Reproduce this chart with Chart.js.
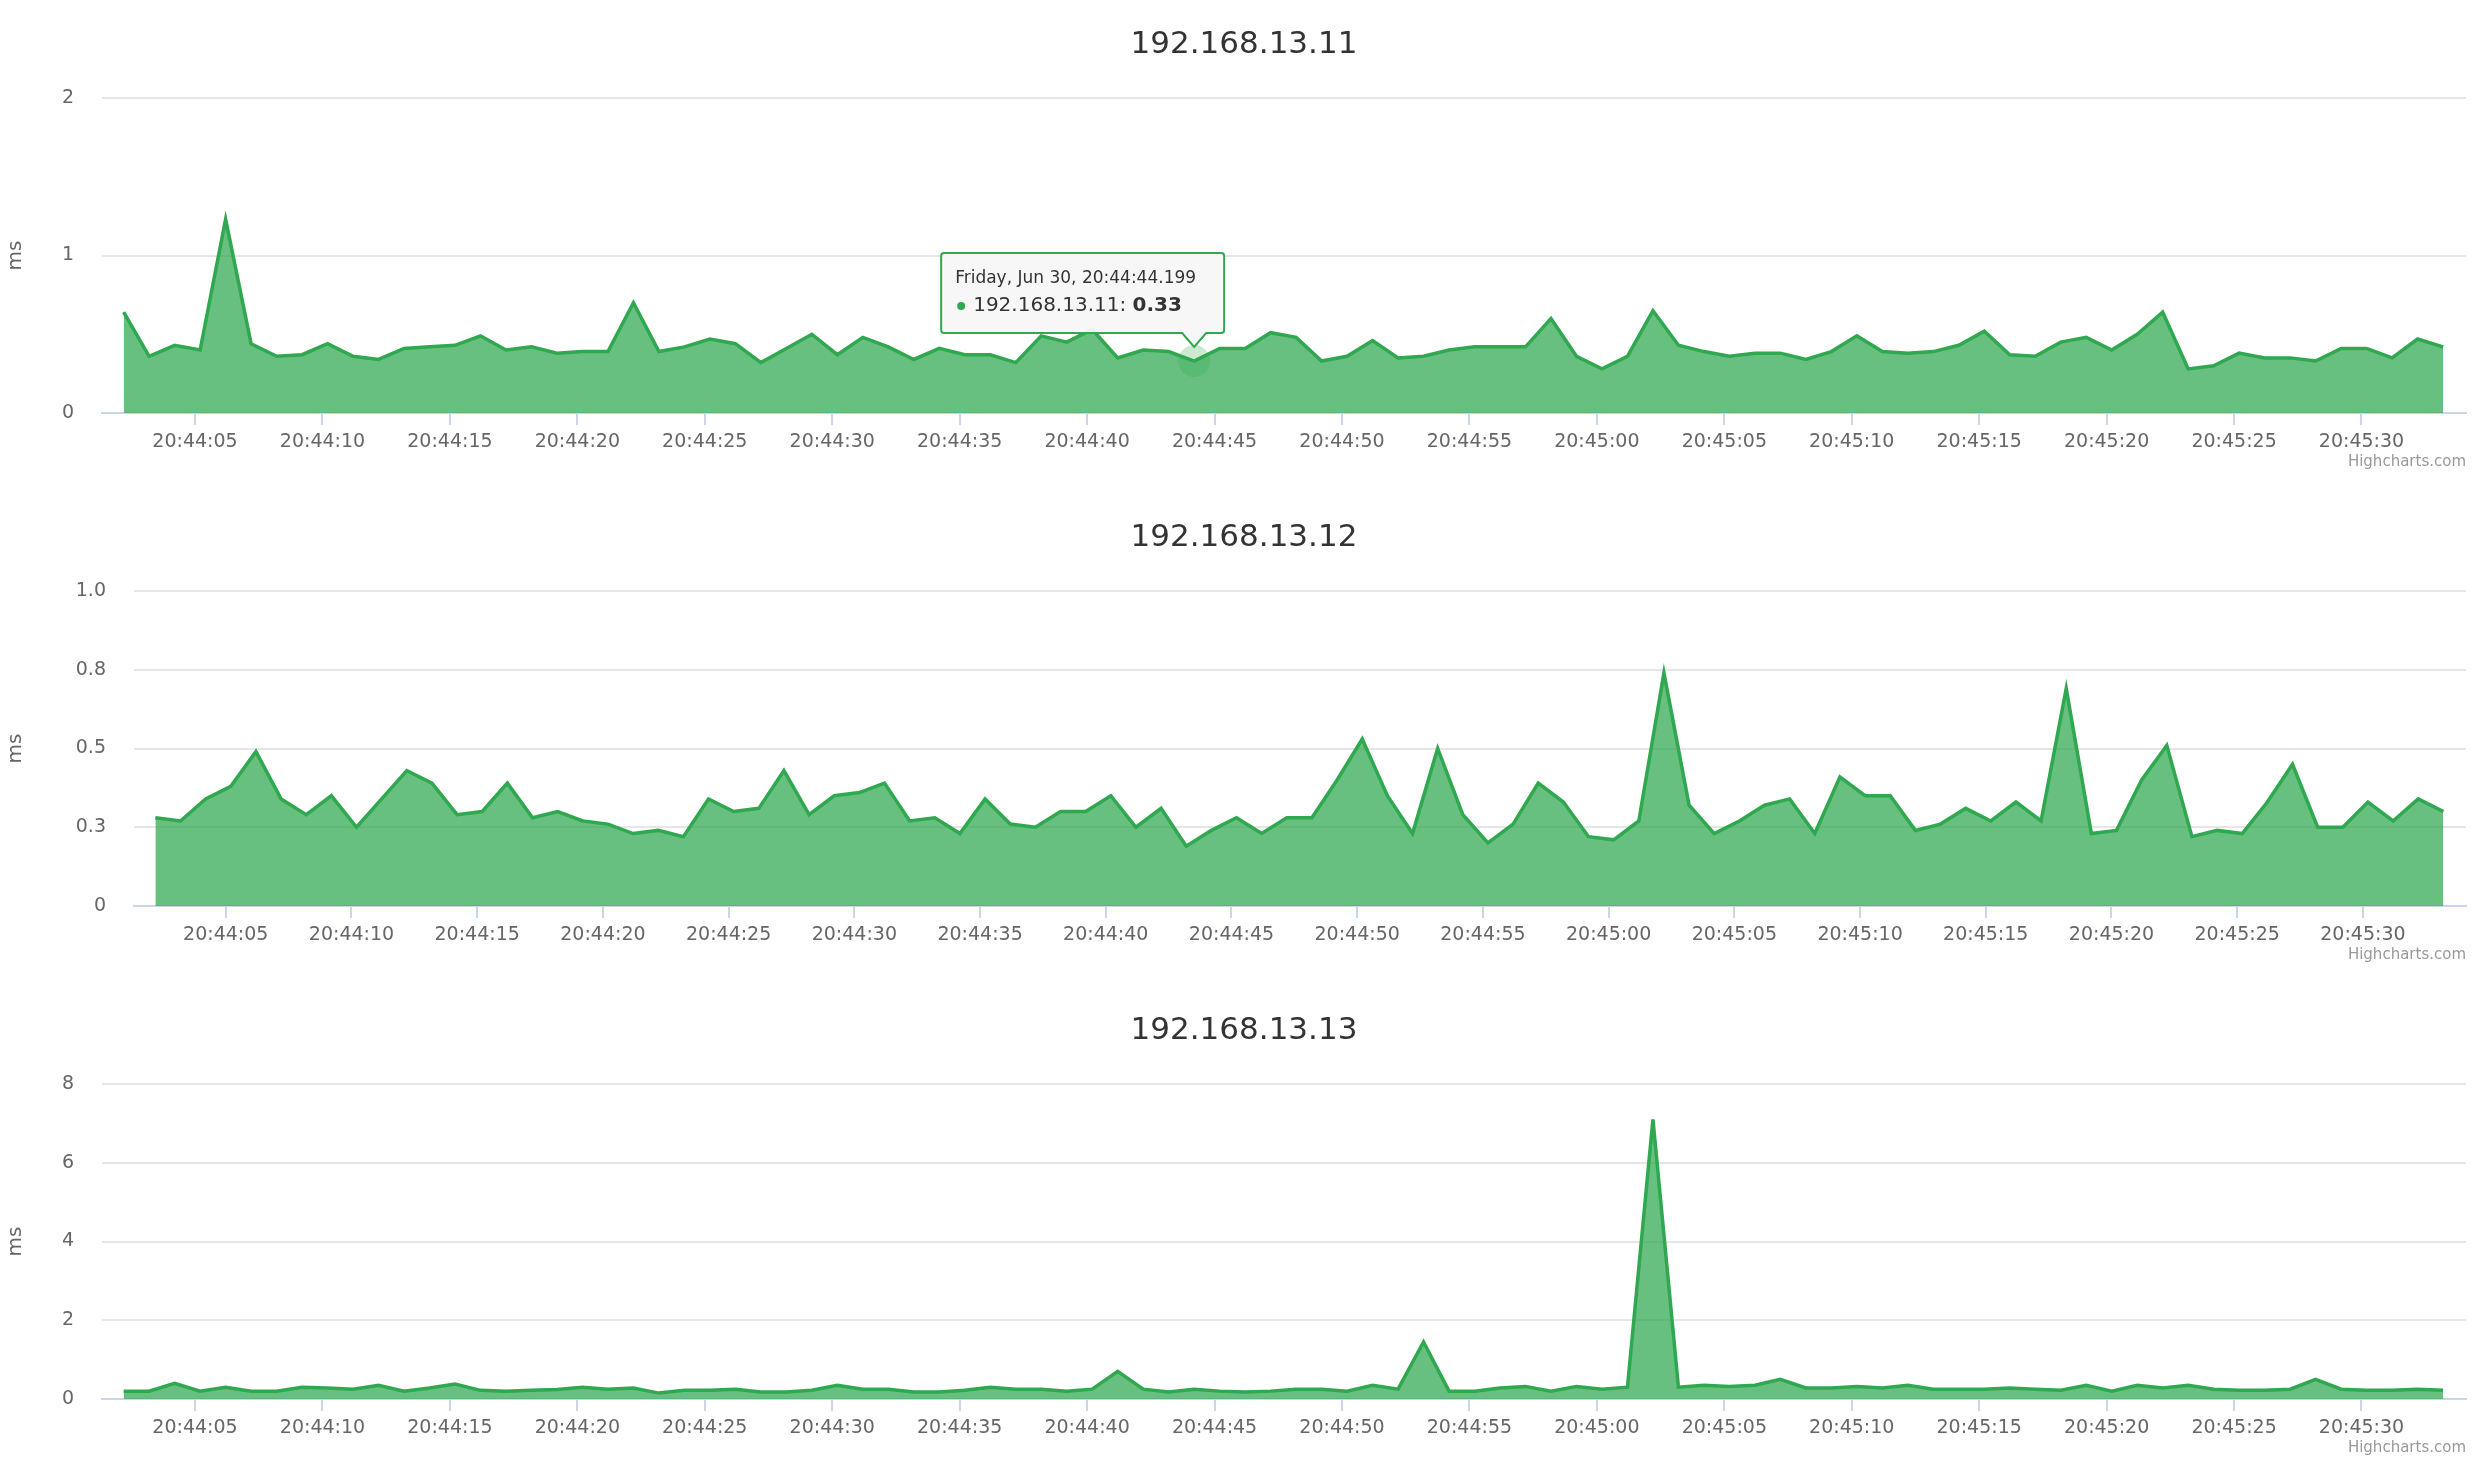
<!DOCTYPE html>
<html><head><meta charset="utf-8">
<script src="https://cdn.jsdelivr.net/npm/chart.js@4"></script>
<style>
body{margin:0;background:#fff;width:2488px;height:1484px;overflow:hidden;font-family:"DejaVu Sans",sans-serif}
.blk{position:absolute;left:0;width:2488px;height:493px}
.ttl{position:absolute;left:0;width:2488px;text-align:center;top:24px;font-size:31px;color:#333}
.cr{position:absolute;right:22px;top:452px;font-size:15px;color:#999}
canvas{position:absolute;left:0;top:0}
</style></head><body>
<div class="blk" style="top:0"><canvas id="c1" width="2488" height="493"></canvas><div class="ttl">192.168.13.11</div><div class="cr">Highcharts.com</div></div>
<div class="blk" style="top:493px"><canvas id="c2" width="2488" height="493"></canvas><div class="ttl">192.168.13.12</div><div class="cr">Highcharts.com</div></div>
<div class="blk" style="top:986px"><canvas id="c3" width="2488" height="493"></canvas><div class="ttl">192.168.13.13</div><div class="cr">Highcharts.com</div></div>
<script>
/* DATA: seconds after 20:44:00, one sample per second */
const t0=2.2;
const host11=[0.64,0.36,0.43,0.40,1.23,0.44,0.36,0.37,0.44,0.36,0.34,0.41,0.42,0.43,0.49,0.40,0.42,0.38,0.39,0.39,0.70,0.39,0.42,0.47,0.44,0.32,0.41,0.50,0.37,0.48,0.42,0.34,0.41,0.37,0.37,0.32,0.49,0.45,0.53,0.35,0.40,0.39,0.33,0.41,0.41,0.51,0.48,0.33,0.36,0.46,0.35,0.36,0.40,0.42,0.42,0.42,0.60,0.36,0.28,0.36,0.65,0.43,0.39,0.36,0.38,0.38,0.34,0.39,0.49,0.39,0.38,0.39,0.43,0.52,0.37,0.36,0.45,0.48,0.40,0.50,0.64,0.28,0.30,0.38,0.35,0.35,0.33,0.41,0.41,0.35,0.47,0.42];
const host12=[0.28,0.27,0.34,0.38,0.49,0.34,0.29,0.35,0.25,0.34,0.43,0.39,0.29,0.30,0.39,0.28,0.30,0.27,0.26,0.23,0.24,0.22,0.34,0.30,0.31,0.43,0.29,0.35,0.36,0.39,0.27,0.28,0.23,0.34,0.26,0.25,0.30,0.30,0.35,0.25,0.31,0.19,0.24,0.28,0.23,0.28,0.28,0.40,0.53,0.35,0.23,0.50,0.29,0.20,0.26,0.39,0.33,0.22,0.21,0.27,0.74,0.32,0.23,0.27,0.32,0.34,0.23,0.41,0.35,0.35,0.24,0.26,0.31,0.27,0.33,0.27,0.69,0.23,0.24,0.40,0.51,0.22,0.24,0.23,0.33,0.45,0.25,0.25,0.33,0.27,0.34,0.30];
const host13=[0.2,0.2,0.4,0.2,0.3,0.2,0.2,0.3,0.28,0.25,0.35,0.2,0.28,0.38,0.22,0.2,0.22,0.24,0.3,0.25,0.28,0.15,0.22,0.22,0.25,0.18,0.18,0.22,0.35,0.25,0.25,0.18,0.18,0.22,0.3,0.25,0.25,0.2,0.25,0.7,0.25,0.18,0.25,0.2,0.18,0.2,0.25,0.25,0.2,0.35,0.25,1.45,0.2,0.2,0.28,0.32,0.2,0.32,0.25,0.3,7.1,0.3,0.35,0.32,0.35,0.5,0.28,0.28,0.32,0.28,0.35,0.25,0.25,0.25,0.28,0.25,0.22,0.35,0.2,0.35,0.28,0.35,0.25,0.22,0.22,0.25,0.5,0.25,0.22,0.22,0.25,0.22];
const xTicks=[5,10,15,20,25,30,35,40,45,50,55,60,65,70,75,80,85,90];
const yTicks11=[0,1,2], yTicks12=[0,0.25,0.5,0.75,1], yTicks13=[0,2,4,6,8];

const FONT='"DejaVu Sans", sans-serif';
function fmt(t){const m=44+Math.floor(t/60),s=Math.round(t%60);return "20:"+m+":"+String(s).padStart(2,"0");}

/* static tooltip like the screenshot */
const tipPlugin={id:"tip",afterDraw(chart){
  if(chart.canvas.id!=="c1")return;
  const p=chart.getDatasetMeta(0).data[42],ctx=chart.ctx;
  ctx.save();
  ctx.fillStyle="rgba(47,168,79,0.25)";
  ctx.beginPath();ctx.arc(p.x,p.y,16,0,Math.PI*2);ctx.fill();
  const w=283,h=80,bx=p.x-253,by=p.y-108;
  ctx.fillStyle="rgba(247,247,247,0.95)";ctx.strokeStyle="#2fa84f";ctx.lineWidth=2;
  ctx.beginPath();
  ctx.moveTo(bx+3,by);ctx.lineTo(bx+w-3,by);ctx.quadraticCurveTo(bx+w,by,bx+w,by+3);
  ctx.lineTo(bx+w,by+h-3);ctx.quadraticCurveTo(bx+w,by+h,bx+w-3,by+h);
  ctx.lineTo(p.x+12,by+h);ctx.lineTo(p.x,by+h+14);ctx.lineTo(p.x-12,by+h);
  ctx.lineTo(bx+3,by+h);ctx.quadraticCurveTo(bx,by+h,bx,by+h-3);
  ctx.lineTo(bx,by+3);ctx.quadraticCurveTo(bx,by,bx+3,by);
  ctx.fill();ctx.stroke();
  ctx.fillStyle="#333";ctx.textBaseline="middle";
  ctx.font="17px "+FONT;ctx.fillText("Friday, Jun 30, 20:44:44.199",bx+14,by+26);
  ctx.fillStyle="#2fa84f";ctx.beginPath();ctx.arc(bx+20,by+53,4,0,Math.PI*2);ctx.fill();
  ctx.fillStyle="#333";ctx.font="20px "+FONT;
  const lab="192.168.13.11: ";ctx.fillText(lab,bx+32,by+53);
  const lw=ctx.measureText(lab).width;
  ctx.font="bold 20px "+FONT;ctx.fillText(String(host11[42]),bx+32+lw,by+53);
  ctx.restore();
}};

function make(id,vals,yt,yw){
  new Chart(document.getElementById(id),{
    type:"line",
    data:{datasets:[{
      data:vals.map((v,i)=>({x:t0+i,y:v})),
      borderColor:"#2fa84f",borderWidth:3.5,backgroundColor:"rgba(47,168,79,0.73)",
      fill:"origin",pointRadius:0,tension:0
    }]},
    options:{
      responsive:false,animation:false,
      layout:{padding:{top:98,right:22,bottom:28,left:0}},
      plugins:{legend:{display:false},tooltip:{enabled:false}},
      scales:{
        x:{type:"linear",min:1.35,max:94.1,
          afterBuildTicks(s){s.ticks=xTicks.map(v=>({value:v}));},
          afterFit(s){s.height=52;},
          ticks:{autoSkip:false,maxRotation:0,callback:v=>fmt(v),color:"#666",font:{family:FONT,size:19},padding:6},
          grid:{drawOnChartArea:false,drawTicks:true,tickLength:12,color:"#ccd6eb",lineWidth:2},
          border:{color:"#ccd6eb",width:2}},
        y:{min:yt[0],max:yt[yt.length-1],
          afterBuildTicks(s){s.ticks=yt.map(v=>({value:v}));},
          afterFit(s){s.width=yw;},
          title:{display:true,text:"ms",color:"#666",font:{family:FONT,size:20},padding:{bottom:14}},
          ticks:{color:"#666",font:{family:FONT,size:19},padding:28},
          grid:{color:"#e6e6e6",lineWidth:2,drawTicks:false},
          border:{display:false}}
      }
    },
    plugins:[tipPlugin]
  });
}
make("c1",host11,yTicks11,102);
make("c2",host12,yTicks12,134);
make("c3",host13,yTicks13,102);
</script>
</body></html>
